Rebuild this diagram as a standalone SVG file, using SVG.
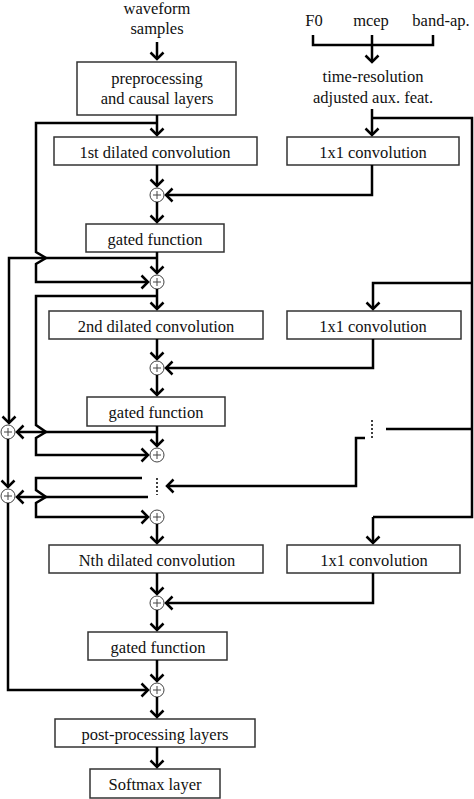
<svg xmlns="http://www.w3.org/2000/svg" width="474" height="799" viewBox="0 0 474 799">
<defs>
<marker id="ah" markerUnits="userSpaceOnUse" viewBox="-9 -8 11 16" markerWidth="11" markerHeight="16" refX="0" refY="0" orient="auto">
<path d="M-6.5,-6.5 L0,0 L-6.5,6.5" fill="none" stroke="#000" stroke-width="2.5"/>
</marker>
</defs>
<rect width="474" height="799" fill="#fff"/>

<g id="inputs" fill="#111" text-anchor="middle">
<text font-family="Liberation Serif" style="font-family:'Liberation Serif','Times New Roman',serif !important" font-size="16.5" x="157" y="14">waveform</text>
<text font-family="Liberation Serif" style="font-family:'Liberation Serif','Times New Roman',serif !important" font-size="16.5" x="157" y="34">samples</text>
<text font-family="Liberation Serif" style="font-family:'Liberation Serif','Times New Roman',serif !important" font-size="16.5" x="314" y="26">F0</text>
<text font-family="Liberation Serif" style="font-family:'Liberation Serif','Times New Roman',serif !important" font-size="16.5" x="371" y="26">mcep</text>
<text font-family="Liberation Serif" style="font-family:'Liberation Serif','Times New Roman',serif !important" font-size="16.5" x="441" y="26">band-ap.</text>
<text font-family="Liberation Serif" style="font-family:'Liberation Serif','Times New Roman',serif !important" font-size="16.5" x="373" y="82">time-resolution</text>
<text font-family="Liberation Serif" style="font-family:'Liberation Serif','Times New Roman',serif !important" font-size="16.5" x="373" y="103">adjusted aux. feat.</text>
</g>

<g id="preproc"><rect fill="#fff" stroke="#333" stroke-width="1.5" x="77" y="62" width="159" height="53"/>
<text font-family="Liberation Serif" style="font-family:'Liberation Serif','Times New Roman',serif !important" font-size="16.5" fill="#111" text-anchor="middle" x="157" y="84">preprocessing</text><text font-family="Liberation Serif" style="font-family:'Liberation Serif','Times New Roman',serif !important" font-size="16.5" fill="#111" text-anchor="middle" x="157" y="104">and causal layers</text></g>
<g id="dil1"><rect fill="#fff" stroke="#333" stroke-width="1.5" x="54" y="137" width="203" height="28"/><text font-family="Liberation Serif" style="font-family:'Liberation Serif','Times New Roman',serif !important" font-size="16.5" fill="#111" text-anchor="middle" x="155" y="158">1st dilated convolution</text></g>
<g id="conv1"><rect fill="#fff" stroke="#333" stroke-width="1.5" x="287" y="137" width="172" height="28"/><text font-family="Liberation Serif" style="font-family:'Liberation Serif','Times New Roman',serif !important" font-size="16.5" fill="#111" text-anchor="middle" x="373" y="158">1x1 convolution</text></g>
<g id="gate1"><rect fill="#fff" stroke="#333" stroke-width="1.5" x="86" y="224" width="138" height="28"/><text font-family="Liberation Serif" style="font-family:'Liberation Serif','Times New Roman',serif !important" font-size="16.5" fill="#111" text-anchor="middle" x="155" y="245">gated function</text></g>
<g id="dil2"><rect fill="#fff" stroke="#333" stroke-width="1.5" x="49" y="311" width="214" height="28"/><text font-family="Liberation Serif" style="font-family:'Liberation Serif','Times New Roman',serif !important" font-size="16.5" fill="#111" text-anchor="middle" x="156" y="332">2nd dilated convolution</text></g>
<g id="conv2"><rect fill="#fff" stroke="#333" stroke-width="1.5" x="287" y="311" width="174" height="28"/><text font-family="Liberation Serif" style="font-family:'Liberation Serif','Times New Roman',serif !important" font-size="16.5" fill="#111" text-anchor="middle" x="373" y="332">1x1 convolution</text></g>
<g id="gate2"><rect fill="#fff" stroke="#333" stroke-width="1.5" x="87" y="397" width="138" height="29"/><text font-family="Liberation Serif" style="font-family:'Liberation Serif','Times New Roman',serif !important" font-size="16.5" fill="#111" text-anchor="middle" x="156" y="418">gated function</text></g>
<g id="dilN"><rect fill="#fff" stroke="#333" stroke-width="1.5" x="49" y="545" width="214" height="28"/><text font-family="Liberation Serif" style="font-family:'Liberation Serif','Times New Roman',serif !important" font-size="16.5" fill="#111" text-anchor="middle" x="157" y="566">Nth dilated convolution</text></g>
<g id="convN"><rect fill="#fff" stroke="#333" stroke-width="1.5" x="287" y="545" width="173" height="28"/><text font-family="Liberation Serif" style="font-family:'Liberation Serif','Times New Roman',serif !important" font-size="16.5" fill="#111" text-anchor="middle" x="374" y="566">1x1 convolution</text></g>
<g id="gate3"><rect fill="#fff" stroke="#333" stroke-width="1.5" x="88" y="632" width="139" height="28"/><text font-family="Liberation Serif" style="font-family:'Liberation Serif','Times New Roman',serif !important" font-size="16.5" fill="#111" text-anchor="middle" x="158" y="653">gated function</text></g>
<g id="post"><rect fill="#fff" stroke="#333" stroke-width="1.5" x="55" y="719" width="200" height="28"/><text font-family="Liberation Serif" style="font-family:'Liberation Serif','Times New Roman',serif !important" font-size="16.5" fill="#111" text-anchor="middle" x="155" y="740">post-processing layers</text></g>
<g id="softmax"><rect fill="#fff" stroke="#333" stroke-width="1.5" x="90" y="769" width="130" height="29"/><text font-family="Liberation Serif" style="font-family:'Liberation Serif','Times New Roman',serif !important" font-size="16.5" fill="#111" text-anchor="middle" x="155" y="790">Softmax layer</text></g>

<g id="sums" fill="#fff" stroke="#444" stroke-width="1">
<g id="s1"><circle cx="157" cy="195" r="7"/><path d="M153,195H161M157,191V199"/></g>
<g id="s2"><circle cx="157" cy="282" r="7"/><path d="M153,282H161M157,278V286"/></g>
<g id="s3"><circle cx="157" cy="368" r="7"/><path d="M153,368H161M157,364V372"/></g>
<g id="s4"><circle cx="157" cy="455" r="7"/><path d="M153,455H161M157,451V459"/></g>
<g id="s5"><circle cx="157" cy="517" r="7"/><path d="M153,517H161M157,513V521"/></g>
<g id="s6"><circle cx="157" cy="603" r="7"/><path d="M153,603H161M157,599V607"/></g>
<g id="s7"><circle cx="157" cy="690" r="7"/><path d="M153,690H161M157,686V694"/></g>
<g id="sl1"><circle cx="8" cy="432" r="7"/><path d="M4,432H12M8,428V436"/></g>
<g id="sl2"><circle cx="8" cy="496" r="7"/><path d="M4,496H12M8,492V500"/></g>
</g>

<g id="connectors" fill="none" stroke="#000" stroke-width="2.5">
<path marker-end="url(#ah)" d="M157,42V59"/>
<path d="M313,35V45H433V35"/>
<path marker-end="url(#ah)" d="M372,35V62"/>
<path marker-end="url(#ah)" d="M157,115V135"/>
<path marker-end="url(#ah)" d="M157,123H36V252L46,258L36,264V282H148"/>
<path marker-end="url(#ah)" d="M372,109V135"/>
<path d="M372,118H472V517H373"/>
<path marker-end="url(#ah)" d="M373,517V543"/>
<path marker-end="url(#ah)" d="M472,283H373V309"/>
<path d="M472,429H386"/>
<path marker-end="url(#ah)" d="M372,165V195H166"/>
<path marker-end="url(#ah)" d="M157,165V186"/>
<path marker-end="url(#ah)" d="M157,202V222"/>
<path marker-end="url(#ah)" d="M157,252V273"/>
<path marker-end="url(#ah)" d="M157,258H9V423"/>
<path marker-end="url(#ah)" d="M157,289V309"/>
<path marker-end="url(#ah)" d="M157,296H36V425L46,432L36,438V455H148"/>
<path marker-end="url(#ah)" d="M157,339V359"/>
<path marker-end="url(#ah)" d="M373,339V368H166"/>
<path marker-end="url(#ah)" d="M157,375V395"/>
<path marker-end="url(#ah)" d="M157,426V446"/>
<path marker-end="url(#ah)" d="M157,432H17"/>
<path marker-end="url(#ah)" d="M8,439V487"/>
<path stroke-width="1.5" stroke-dasharray="2 2" d="M157,478V495"/>
<path stroke-width="1.5" stroke-dasharray="2 2" d="M372,420V439"/>
<path marker-end="url(#ah)" d="M142,478H36V490L46,497L36,503V517H148"/>
<path marker-end="url(#ah)" d="M148,497H17"/>
<path marker-end="url(#ah)" d="M365,438H356V486H167"/>
<path marker-end="url(#ah)" d="M157,524V543"/>
<path marker-end="url(#ah)" d="M157,573V594"/>
<path marker-end="url(#ah)" d="M373,573V603H166"/>
<path marker-end="url(#ah)" d="M157,610V630"/>
<path marker-end="url(#ah)" d="M157,660V681"/>
<path marker-end="url(#ah)" d="M8,503V690H148"/>
<path marker-end="url(#ah)" d="M157,697V717"/>
<path marker-end="url(#ah)" d="M157,747V767"/>
</g>
</svg>
